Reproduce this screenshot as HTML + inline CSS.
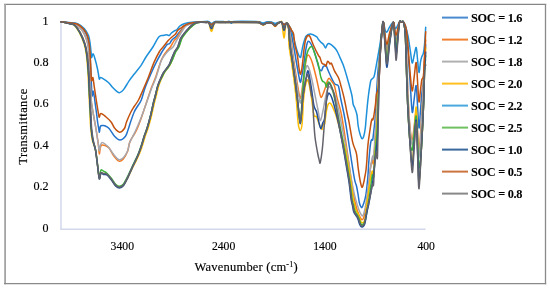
<!DOCTYPE html><html><head><meta charset="utf-8"><style>html,body{margin:0;padding:0;background:#fff;}svg{display:block;}text{font-family:"Liberation Serif",serif;fill:#000;stroke:#000;stroke-width:0.15px;}</style></head><body>
<svg width="550" height="288" viewBox="0 0 550 288">
<rect x="0" y="0" width="550" height="288" fill="#fff"/>
<line x1="4" y1="4.4" x2="546.2" y2="4.4" stroke="#868686" stroke-width="1.3"/>
<line x1="5.1" y1="4" x2="5.1" y2="284.3" stroke="#a4a4a4" stroke-width="1.8"/>
<line x1="545.5" y1="4" x2="545.5" y2="284.3" stroke="#8a8a8a" stroke-width="1.3"/>
<line x1="4" y1="283.7" x2="546.2" y2="283.7" stroke="#8a8a8a" stroke-width="1.3"/>
<line x1="61" y1="21" x2="61" y2="229.2" stroke="#D3D7EA" stroke-width="1.5"/>
<line x1="60.3" y1="229.2" x2="425.5" y2="229.2" stroke="#D3D7EA" stroke-width="1.5"/>
<text x="48.6" y="24.6" font-size="12.5" text-anchor="end" textLength="6" lengthAdjust="spacingAndGlyphs">1</text>
<text x="48.6" y="66.0" font-size="12.5" text-anchor="end" textLength="15.2" lengthAdjust="spacingAndGlyphs">0.8</text>
<text x="48.6" y="107.4" font-size="12.5" text-anchor="end" textLength="15.2" lengthAdjust="spacingAndGlyphs">0.6</text>
<text x="48.6" y="148.8" font-size="12.5" text-anchor="end" textLength="15.2" lengthAdjust="spacingAndGlyphs">0.4</text>
<text x="48.6" y="190.2" font-size="12.5" text-anchor="end" textLength="15.2" lengthAdjust="spacingAndGlyphs">0.2</text>
<text x="48.6" y="231.6" font-size="12.5" text-anchor="end" textLength="6" lengthAdjust="spacingAndGlyphs">0</text>
<text x="110.6" y="250.1" font-size="12.5" textLength="23.4" lengthAdjust="spacingAndGlyphs">3400</text>
<text x="211.9" y="250.1" font-size="12.5" textLength="23.4" lengthAdjust="spacingAndGlyphs">2400</text>
<text x="313.2" y="250.1" font-size="12.5" textLength="23.4" lengthAdjust="spacingAndGlyphs">1400</text>
<text x="417.4" y="250.1" font-size="12.5" textLength="17.5" lengthAdjust="spacingAndGlyphs">400</text>
<text x="194.6" y="271.2" font-size="12.5" textLength="103" lengthAdjust="spacing">Wavenumber (cm<tspan font-size="8" dy="-4.5">-1</tspan><tspan dy="4.5">)</tspan></text>
<text transform="translate(27.3,164.7) rotate(-90)" font-size="12.5" textLength="76" lengthAdjust="spacing">Transmittance</text>
<g fill="none" stroke-linejoin="round" stroke-linecap="round">
<path d="M61.00,21.70 C61.67,21.80 63.67,22.10 65.00,22.30 C66.33,22.50 67.00,22.58 69.00,22.90 C71.00,23.22 74.58,23.10 77.00,24.20 C79.42,25.30 81.75,27.37 83.50,29.50 C85.25,31.63 86.50,34.08 87.50,37.00 C88.50,39.92 89.03,43.17 89.50,47.00 C89.97,50.83 90.05,55.33 90.30,60.00 C90.55,64.67 90.78,70.33 91.00,75.00 C91.22,79.67 91.40,84.50 91.60,88.00 C91.80,91.50 91.95,95.52 92.20,96.00 C92.45,96.48 92.77,90.90 93.10,90.90 C93.43,90.90 93.82,93.65 94.20,96.00 C94.58,98.35 95.02,102.17 95.40,105.00 C95.78,107.83 96.13,110.17 96.50,113.00 C96.87,115.83 97.25,119.50 97.60,122.00 C97.95,124.50 98.30,126.30 98.60,128.00 C98.90,129.70 99.10,132.47 99.40,132.20 C99.70,131.93 99.88,127.52 100.40,126.40 C100.92,125.28 101.78,125.60 102.50,125.50 C103.22,125.40 103.60,125.30 104.70,125.80 C105.80,126.30 107.47,126.77 109.10,128.50 C110.73,130.23 112.68,134.28 114.50,136.20 C116.32,138.12 118.17,140.00 120.00,140.00 C121.83,140.00 124.17,137.87 125.50,136.20 C126.83,134.53 127.10,132.53 128.00,130.00 C128.90,127.47 129.87,124.00 130.90,121.00 C131.93,118.00 133.18,114.33 134.20,112.00 C135.22,109.67 135.82,109.00 137.00,107.00 C138.18,105.00 139.97,103.17 141.30,100.00 C142.63,96.83 143.27,92.67 145.00,88.00 C146.73,83.33 149.83,76.27 151.70,72.00 C153.57,67.73 154.55,65.65 156.20,62.40 C157.85,59.15 160.08,55.07 161.60,52.50 C163.12,49.93 164.32,48.38 165.30,47.00 C166.28,45.62 166.77,44.78 167.50,44.20 C168.23,43.62 168.97,44.22 169.70,43.50 C170.43,42.78 170.93,40.98 171.90,39.90 C172.87,38.82 174.40,38.10 175.50,37.00 C176.60,35.90 177.52,34.53 178.50,33.30 C179.48,32.07 180.43,30.82 181.40,29.60 C182.37,28.38 182.87,27.02 184.30,26.00 C185.73,24.98 187.88,24.13 190.00,23.50 C192.12,22.87 194.33,22.50 197.00,22.20 C199.67,21.90 204.05,21.75 206.00,21.70 C207.95,21.65 207.78,21.27 208.70,21.90 C209.62,22.53 210.50,25.50 211.50,25.50 C212.50,25.50 213.28,22.53 214.70,21.90 C216.12,21.27 213.12,21.73 220.00,21.70 C226.88,21.67 249.42,21.62 256.00,21.70 C262.58,21.78 258.30,21.75 259.50,22.20 C260.70,22.65 262.03,24.38 263.20,24.40 C264.37,24.42 265.45,22.70 266.50,22.30 C267.55,21.90 268.50,21.93 269.50,22.00 C270.50,22.07 271.55,22.12 272.50,22.70 C273.45,23.28 274.32,25.50 275.20,25.50 C276.08,25.50 277.07,23.22 277.80,22.70 C278.53,22.18 279.13,22.48 279.60,22.40 C280.07,22.32 280.20,22.17 280.60,22.20 C281.00,22.23 281.43,22.13 282.00,22.60 C282.57,23.07 283.33,24.85 284.00,25.00 C284.67,25.15 285.27,23.42 286.00,23.50 C286.73,23.58 287.57,23.92 288.40,25.50 C289.23,27.08 290.15,29.75 291.00,33.00 C291.85,36.25 292.67,40.50 293.50,45.00 C294.33,49.50 295.17,55.17 296.00,60.00 C296.83,64.83 297.78,70.27 298.50,74.00 C299.22,77.73 299.72,82.23 300.30,82.40 C300.88,82.57 301.45,77.73 302.00,75.00 C302.55,72.27 303.10,69.33 303.60,66.00 C304.10,62.67 304.52,58.33 305.00,55.00 C305.48,51.67 305.97,48.28 306.50,46.00 C307.03,43.72 307.45,41.63 308.20,41.30 C308.95,40.97 309.95,42.18 311.00,44.00 C312.05,45.82 313.45,49.20 314.50,52.20 C315.55,55.20 316.55,59.37 317.30,62.00 C318.05,64.63 318.32,66.53 319.00,68.00 C319.68,69.47 320.73,70.97 321.40,70.80 C322.07,70.63 322.40,67.83 323.00,67.00 C323.60,66.17 324.42,65.88 325.00,65.80 C325.58,65.72 325.82,65.35 326.50,66.50 C327.18,67.65 327.77,69.85 329.10,72.70 C330.43,75.55 332.95,81.38 334.50,83.60 C336.05,85.82 337.38,83.60 338.40,86.00 C339.42,88.40 339.63,93.17 340.60,98.00 C341.57,102.83 343.08,109.12 344.20,115.00 C345.32,120.88 346.18,126.30 347.30,133.30 C348.42,140.30 349.70,149.37 350.90,157.00 C352.10,164.63 353.57,174.27 354.50,179.10 C355.43,183.93 355.92,183.52 356.50,186.00 C357.08,188.48 357.55,191.33 358.00,194.00 C358.45,196.67 358.78,200.00 359.20,202.00 C359.62,204.00 360.03,205.08 360.50,206.00 C360.97,206.92 361.45,208.00 362.00,207.50 C362.55,207.00 363.30,204.42 363.80,203.00 C364.30,201.58 364.63,200.50 365.00,199.00 C365.37,197.50 365.65,196.33 366.00,194.00 C366.35,191.67 366.77,188.17 367.10,185.00 C367.43,181.83 367.72,178.83 368.00,175.00 C368.28,171.17 368.50,166.17 368.80,162.00 C369.10,157.83 369.47,153.33 369.80,150.00 C370.13,146.67 370.47,143.75 370.80,142.00 C371.13,140.25 371.48,139.87 371.80,139.50 C372.12,139.13 372.37,141.22 372.70,139.80 C373.03,138.38 373.38,134.63 373.80,131.00 C374.22,127.37 374.82,122.33 375.20,118.00 C375.58,113.67 375.80,110.50 376.10,105.00 C376.40,99.50 376.60,91.67 377.00,85.00 C377.40,78.33 377.87,71.67 378.50,65.00 C379.13,58.33 380.17,50.83 380.80,45.00 C381.43,39.17 381.87,33.78 382.30,30.00 C382.73,26.22 382.92,20.78 383.40,22.30 C383.88,23.82 384.60,34.53 385.20,39.15 C385.80,43.77 386.28,50.50 387.00,50.00 C387.72,49.50 388.45,40.78 389.50,36.15 C390.55,31.52 392.38,22.38 393.30,22.20 C394.22,22.02 394.52,31.80 395.00,35.10 C395.48,38.40 395.73,42.50 396.20,42.00 C396.67,41.50 397.25,35.40 397.80,32.10 C398.35,28.80 398.88,23.88 399.50,22.20 C400.12,20.52 400.83,22.00 401.50,22.00 C402.17,22.00 402.83,21.20 403.50,22.20 C404.17,23.20 404.83,24.20 405.50,28.00 C406.17,31.80 406.75,36.33 407.50,45.00 C408.25,53.67 409.22,68.83 410.00,80.00 C410.78,91.17 411.50,108.87 412.20,112.00 C412.90,115.13 413.53,103.20 414.20,98.80 C414.87,94.40 415.63,84.27 416.20,85.60 C416.77,86.93 417.13,99.73 417.60,106.80 C418.07,113.87 418.52,127.47 419.00,128.00 C419.48,128.53 420.00,116.00 420.50,110.00 C421.00,104.00 421.48,97.00 422.00,92.00 C422.52,87.00 423.17,85.33 423.60,80.00 C424.03,74.67 424.25,65.87 424.60,60.00 C424.95,54.13 425.52,47.33 425.70,44.80" stroke="#2272CC" stroke-width="1.5"/>
<path d="M61.00,21.70 C61.67,21.82 63.67,22.18 65.00,22.40 C66.33,22.62 67.17,22.65 69.00,23.00 C70.83,23.35 73.83,23.33 76.00,24.50 C78.17,25.67 80.33,27.75 82.00,30.00 C83.67,32.25 84.95,35.17 86.00,38.00 C87.05,40.83 87.75,43.33 88.30,47.00 C88.85,50.67 89.03,55.33 89.30,60.00 C89.57,64.67 89.68,70.00 89.90,75.00 C90.12,80.00 90.35,85.50 90.60,90.00 C90.85,94.50 90.92,97.83 91.40,102.00 C91.88,106.17 92.85,111.17 93.50,115.00 C94.15,118.83 94.72,121.67 95.30,125.00 C95.88,128.33 96.47,131.50 97.00,135.00 C97.53,138.50 98.12,142.83 98.50,146.00 C98.88,149.17 98.97,153.83 99.30,154.00 C99.63,154.17 100.05,148.50 100.50,147.00 C100.95,145.50 101.25,145.25 102.00,145.00 C102.75,144.75 103.82,145.00 105.00,145.50 C106.18,146.00 107.68,146.32 109.10,148.00 C110.52,149.68 111.87,153.42 113.50,155.60 C115.13,157.78 117.27,160.55 118.90,161.10 C120.53,161.65 121.85,160.53 123.30,158.90 C124.75,157.27 126.57,153.95 127.60,151.30 C128.63,148.65 128.68,145.38 129.50,143.00 C130.32,140.62 131.32,139.17 132.50,137.00 C133.68,134.83 135.05,133.43 136.60,130.00 C138.15,126.57 140.02,121.40 141.80,116.40 C143.58,111.40 145.72,104.73 147.30,100.00 C148.88,95.27 149.90,91.83 151.30,88.00 C152.70,84.17 154.15,81.33 155.70,77.00 C157.25,72.67 159.28,65.58 160.60,62.00 C161.92,58.42 162.60,57.28 163.60,55.50 C164.60,53.72 165.47,52.72 166.60,51.30 C167.73,49.88 169.15,48.78 170.40,47.00 C171.65,45.22 173.00,42.15 174.10,40.60 C175.20,39.05 176.15,38.80 177.00,37.70 C177.85,36.60 178.35,35.35 179.20,34.00 C180.05,32.65 181.13,30.93 182.10,29.60 C183.07,28.27 183.52,27.02 185.00,26.00 C186.48,24.98 188.83,24.13 191.00,23.50 C193.17,22.87 195.50,22.47 198.00,22.20 C200.50,21.93 204.22,21.92 206.00,21.90 C207.78,21.88 207.78,21.42 208.70,22.10 C209.62,22.78 210.50,26.00 211.50,26.00 C212.50,26.00 213.28,22.78 214.70,22.10 C216.12,21.42 213.12,21.93 220.00,21.90 C226.88,21.87 249.42,21.82 256.00,21.90 C262.58,21.98 258.30,21.98 259.50,22.40 C260.70,22.82 262.03,24.38 263.20,24.40 C264.37,24.42 265.45,22.87 266.50,22.50 C267.55,22.13 268.50,22.13 269.50,22.20 C270.50,22.27 271.55,22.35 272.50,22.90 C273.45,23.45 274.32,25.50 275.20,25.50 C276.08,25.50 277.07,23.42 277.80,22.90 C278.53,22.38 279.13,22.52 279.60,22.40 C280.07,22.28 280.20,22.17 280.60,22.20 C281.00,22.23 281.43,21.97 282.00,22.60 C282.57,23.23 283.33,25.85 284.00,26.00 C284.67,26.15 285.27,23.33 286.00,23.50 C286.73,23.67 287.65,24.92 288.40,27.00 C289.15,29.08 289.73,31.33 290.50,36.00 C291.27,40.67 292.17,49.00 293.00,55.00 C293.83,61.00 294.67,66.50 295.50,72.00 C296.33,77.50 297.20,83.63 298.00,88.00 C298.80,92.37 299.63,97.87 300.30,98.20 C300.97,98.53 301.38,94.03 302.00,90.00 C302.62,85.97 303.42,78.33 304.00,74.00 C304.58,69.67 305.03,66.83 305.50,64.00 C305.97,61.17 306.35,58.52 306.80,57.00 C307.25,55.48 307.58,54.73 308.20,54.90 C308.82,55.07 309.75,56.48 310.50,58.00 C311.25,59.52 311.72,60.63 312.70,64.00 C313.68,67.37 315.35,73.87 316.40,78.20 C317.45,82.53 318.25,86.82 319.00,90.00 C319.75,93.18 320.23,96.63 320.90,97.30 C321.57,97.97 322.23,95.67 323.00,94.00 C323.77,92.33 324.75,89.55 325.50,87.30 C326.25,85.05 326.90,82.02 327.50,80.50 C328.10,78.98 328.43,78.12 329.10,78.20 C329.77,78.28 330.60,79.70 331.50,81.00 C332.40,82.30 333.57,83.17 334.50,86.00 C335.43,88.83 335.93,93.17 337.10,98.00 C338.27,102.83 339.85,106.33 341.50,115.00 C343.15,123.67 345.50,140.00 347.00,150.00 C348.50,160.00 349.50,168.00 350.50,175.00 C351.50,182.00 352.17,187.17 353.00,192.00 C353.83,196.83 354.75,200.83 355.50,204.00 C356.25,207.17 356.83,209.00 357.50,211.00 C358.17,213.00 358.92,214.72 359.50,216.00 C360.08,217.28 360.58,218.07 361.00,218.70 C361.42,219.33 361.62,219.83 362.00,219.80 C362.38,219.77 362.80,219.63 363.30,218.50 C363.80,217.37 364.45,215.25 365.00,213.00 C365.55,210.75 366.17,207.67 366.60,205.00 C367.03,202.33 367.28,199.50 367.60,197.00 C367.92,194.50 368.22,192.83 368.50,190.00 C368.78,187.17 369.07,183.00 369.30,180.00 C369.53,177.00 369.58,174.67 369.90,172.00 C370.22,169.33 370.78,165.92 371.20,164.00 C371.62,162.08 372.05,160.58 372.40,160.50 C372.75,160.42 372.95,165.25 373.30,163.50 C373.65,161.75 374.05,156.42 374.50,150.00 C374.95,143.58 375.53,133.33 376.00,125.00 C376.47,116.67 376.92,107.50 377.30,100.00 C377.68,92.50 377.93,86.67 378.30,80.00 C378.67,73.33 379.05,66.67 379.50,60.00 C379.95,53.33 380.53,45.33 381.00,40.00 C381.47,34.67 381.90,30.95 382.30,28.00 C382.70,25.05 382.92,20.28 383.40,22.30 C383.88,24.32 384.60,35.20 385.20,40.15 C385.80,45.10 386.28,52.50 387.00,52.00 C387.72,51.50 388.45,42.12 389.50,37.15 C390.55,32.18 392.38,22.38 393.30,22.20 C394.22,22.02 394.52,32.47 395.00,36.10 C395.48,39.73 395.73,44.50 396.20,44.00 C396.67,43.50 397.25,36.73 397.80,33.10 C398.35,29.47 398.88,24.05 399.50,22.20 C400.12,20.35 400.83,22.00 401.50,22.00 C402.17,22.00 402.87,20.53 403.50,22.20 C404.13,23.87 404.75,25.70 405.30,32.00 C405.85,38.30 406.35,49.50 406.80,60.00 C407.25,70.50 407.50,84.17 408.00,95.00 C408.50,105.83 409.10,117.50 409.80,125.00 C410.50,132.50 411.47,139.83 412.20,140.00 C412.93,140.17 413.53,130.67 414.20,126.00 C414.87,121.33 415.63,111.17 416.20,112.00 C416.77,112.83 417.13,124.67 417.60,131.00 C418.07,137.33 418.47,150.17 419.00,150.00 C419.53,149.83 420.25,137.50 420.80,130.00 C421.35,122.50 421.88,112.50 422.30,105.00 C422.72,97.50 422.97,92.17 423.30,85.00 C423.63,77.83 423.90,69.50 424.30,62.00 C424.70,54.50 425.47,43.67 425.70,40.00" stroke="#F47A22" stroke-width="1.5"/>
<path d="M61.00,21.70 C61.67,21.82 63.67,22.18 65.00,22.40 C66.33,22.62 67.17,22.65 69.00,23.00 C70.83,23.35 73.83,23.33 76.00,24.50 C78.17,25.67 80.33,27.75 82.00,30.00 C83.67,32.25 84.95,35.17 86.00,38.00 C87.05,40.83 87.75,43.33 88.30,47.00 C88.85,50.67 89.03,55.33 89.30,60.00 C89.57,64.67 89.68,70.00 89.90,75.00 C90.12,80.00 90.35,85.50 90.60,90.00 C90.85,94.50 90.92,97.83 91.40,102.00 C91.88,106.17 92.82,111.00 93.50,115.00 C94.18,119.00 94.92,122.50 95.50,126.00 C96.08,129.50 96.50,132.83 97.00,136.00 C97.50,139.17 98.12,142.50 98.50,145.00 C98.88,147.50 98.97,151.00 99.30,151.00 C99.63,151.00 100.05,146.42 100.50,145.00 C100.95,143.58 101.25,142.67 102.00,142.50 C102.75,142.33 103.82,143.08 105.00,144.00 C106.18,144.92 107.68,146.28 109.10,148.00 C110.52,149.72 111.87,152.35 113.50,154.30 C115.13,156.25 117.27,159.12 118.90,159.70 C120.53,160.28 121.85,159.25 123.30,157.80 C124.75,156.35 126.57,153.47 127.60,151.00 C128.63,148.53 128.68,145.33 129.50,143.00 C130.32,140.67 131.28,139.50 132.50,137.00 C133.72,134.50 135.25,131.50 136.80,128.00 C138.35,124.50 140.02,120.67 141.80,116.00 C143.58,111.33 145.85,104.67 147.50,100.00 C149.15,95.33 150.25,91.83 151.70,88.00 C153.15,84.17 154.67,81.42 156.20,77.00 C157.73,72.58 159.60,65.00 160.90,61.50 C162.20,58.00 162.82,57.72 164.00,56.00 C165.18,54.28 166.50,52.70 168.00,51.20 C169.50,49.70 171.58,48.77 173.00,47.00 C174.42,45.23 175.47,42.43 176.50,40.60 C177.53,38.77 178.20,37.68 179.20,36.00 C180.20,34.32 181.37,32.17 182.50,30.50 C183.63,28.83 184.42,27.17 186.00,26.00 C187.58,24.83 189.83,24.13 192.00,23.50 C194.17,22.87 196.67,22.45 199.00,22.20 C201.33,21.95 204.38,22.00 206.00,22.00 C207.62,22.00 207.78,21.53 208.70,22.20 C209.62,22.87 210.50,26.00 211.50,26.00 C212.50,26.00 213.28,22.87 214.70,22.20 C216.12,21.53 213.12,22.03 220.00,22.00 C226.88,21.97 249.42,21.92 256.00,22.00 C262.58,22.08 258.30,22.10 259.50,22.50 C260.70,22.90 262.03,24.38 263.20,24.40 C264.37,24.42 265.45,22.95 266.50,22.60 C267.55,22.25 268.50,22.23 269.50,22.30 C270.50,22.37 271.55,22.47 272.50,23.00 C273.45,23.53 274.32,25.50 275.20,25.50 C276.08,25.50 277.07,23.52 277.80,23.00 C278.53,22.48 279.13,22.53 279.60,22.40 C280.07,22.27 280.20,22.17 280.60,22.20 C281.00,22.23 281.43,21.88 282.00,22.60 C282.57,23.32 283.33,26.35 284.00,26.50 C284.67,26.65 285.27,23.33 286.00,23.50 C286.73,23.67 287.65,25.08 288.40,27.50 C289.15,29.92 289.73,32.92 290.50,38.00 C291.27,43.08 292.17,51.67 293.00,58.00 C293.83,64.33 294.67,70.33 295.50,76.00 C296.33,81.67 297.20,87.50 298.00,92.00 C298.80,96.50 299.67,102.50 300.30,103.00 C300.93,103.50 301.27,98.50 301.80,95.00 C302.33,91.50 302.97,85.83 303.50,82.00 C304.03,78.17 304.53,74.50 305.00,72.00 C305.47,69.50 305.90,68.07 306.30,67.00 C306.70,65.93 306.87,65.10 307.40,65.60 C307.93,66.10 308.73,67.60 309.50,70.00 C310.27,72.40 311.08,75.83 312.00,80.00 C312.92,84.17 314.00,90.00 315.00,95.00 C316.00,100.00 317.13,105.75 318.00,110.00 C318.87,114.25 319.45,120.00 320.20,120.50 C320.95,121.00 321.70,116.42 322.50,113.00 C323.30,109.58 324.25,103.67 325.00,100.00 C325.75,96.33 326.33,93.25 327.00,91.00 C327.67,88.75 328.25,86.83 329.00,86.50 C329.75,86.17 330.75,88.08 331.50,89.00 C332.25,89.92 332.78,90.50 333.50,92.00 C334.22,93.50 334.78,94.17 335.80,98.00 C336.82,101.83 337.82,106.33 339.60,115.00 C341.38,123.67 344.52,139.17 346.50,150.00 C348.48,160.83 350.17,172.50 351.50,180.00 C352.83,187.50 353.58,191.00 354.50,195.00 C355.42,199.00 356.25,201.50 357.00,204.00 C357.75,206.50 358.37,208.33 359.00,210.00 C359.63,211.67 360.30,213.03 360.80,214.00 C361.30,214.97 361.60,215.60 362.00,215.80 C362.40,216.00 362.78,216.00 363.20,215.20 C363.62,214.40 364.03,213.03 364.50,211.00 C364.97,208.97 365.50,206.17 366.00,203.00 C366.50,199.83 367.00,195.83 367.50,192.00 C368.00,188.17 368.50,184.00 369.00,180.00 C369.50,176.00 370.03,171.33 370.50,168.00 C370.97,164.67 371.43,162.03 371.80,160.00 C372.17,157.97 372.42,155.97 372.70,155.80 C372.98,155.63 373.20,160.80 373.50,159.00 C373.80,157.20 374.08,151.50 374.50,145.00 C374.92,138.50 375.53,127.50 376.00,120.00 C376.47,112.50 376.92,106.67 377.30,100.00 C377.68,93.33 377.93,86.67 378.30,80.00 C378.67,73.33 379.05,66.67 379.50,60.00 C379.95,53.33 380.53,45.33 381.00,40.00 C381.47,34.67 381.90,30.95 382.30,28.00 C382.70,25.05 382.92,20.03 383.40,22.30 C383.88,24.57 384.60,36.20 385.20,41.65 C385.80,47.10 386.28,55.50 387.00,55.00 C387.72,54.50 388.45,44.12 389.50,38.65 C390.55,33.18 392.38,22.46 393.30,22.20 C394.22,21.94 394.52,33.13 395.00,37.10 C395.48,41.07 395.73,46.50 396.20,46.00 C396.67,45.50 397.25,38.07 397.80,34.10 C398.35,30.13 398.88,24.22 399.50,22.20 C400.12,20.18 400.83,22.00 401.50,22.00 C402.17,22.00 402.87,20.37 403.50,22.20 C404.13,24.03 404.75,26.37 405.30,33.00 C405.85,39.63 406.35,51.33 406.80,62.00 C407.25,72.67 407.50,86.17 408.00,97.00 C408.50,107.83 409.10,119.00 409.80,127.00 C410.50,135.00 411.47,144.58 412.20,145.00 C412.93,145.42 413.53,134.67 414.20,129.50 C414.87,124.33 415.63,112.92 416.20,114.00 C416.77,115.08 417.13,128.67 417.60,136.00 C418.07,143.33 418.47,158.17 419.00,158.00 C419.53,157.83 420.25,143.33 420.80,135.00 C421.35,126.67 421.88,115.83 422.30,108.00 C422.72,100.17 422.97,95.00 423.30,88.00 C423.63,81.00 423.90,70.67 424.30,66.00 C424.70,61.33 425.47,61.00 425.70,60.00" stroke="#A6A6AE" stroke-width="1.5"/>
<path d="M61.00,21.70 C61.67,21.85 63.67,22.32 65.00,22.60 C66.33,22.88 67.52,23.00 69.00,23.40 C70.48,23.80 72.18,23.50 73.90,25.00 C75.62,26.50 77.58,29.23 79.30,32.40 C81.02,35.57 83.02,40.23 84.20,44.00 C85.38,47.77 85.75,49.83 86.40,55.00 C87.05,60.17 87.67,68.33 88.10,75.00 C88.53,81.67 88.70,88.83 89.00,95.00 C89.30,101.17 89.62,106.50 89.90,112.00 C90.18,117.50 90.30,123.33 90.70,128.00 C91.10,132.67 91.50,136.33 92.30,140.00 C93.10,143.67 94.63,145.83 95.50,150.00 C96.37,154.17 96.87,160.25 97.50,165.00 C98.13,169.75 98.73,177.17 99.30,178.50 C99.87,179.83 100.20,173.75 100.90,173.00 C101.60,172.25 102.50,173.75 103.50,174.00 C104.50,174.25 105.60,173.58 106.90,174.50 C108.20,175.42 109.85,177.67 111.30,179.50 C112.75,181.33 114.23,184.15 115.60,185.50 C116.97,186.85 118.22,187.60 119.50,187.60 C120.78,187.60 121.92,187.13 123.30,185.50 C124.68,183.87 126.24,180.72 127.76,177.80 C129.28,174.88 130.91,171.08 132.42,168.00 C133.94,164.92 135.64,161.80 136.85,159.30 C138.07,156.80 138.85,155.13 139.72,153.00 C140.59,150.87 141.15,149.40 142.10,146.50 C143.05,143.60 144.40,138.68 145.40,135.60 C146.40,132.52 147.10,131.27 148.10,128.00 C149.10,124.73 150.37,120.17 151.40,116.00 C152.43,111.83 153.55,106.17 154.30,103.00 C155.05,99.83 155.18,99.80 155.90,97.00 C156.62,94.20 157.77,89.03 158.60,86.20 C159.43,83.37 160.17,81.82 160.90,80.00 C161.63,78.18 162.37,76.60 163.00,75.30 C163.63,74.00 163.87,73.45 164.70,72.20 C165.53,70.95 167.08,69.08 168.00,67.80 C168.92,66.52 169.47,65.95 170.20,64.50 C170.93,63.05 171.50,61.27 172.40,59.10 C173.30,56.93 174.57,53.52 175.60,51.50 C176.63,49.48 177.60,49.18 178.60,47.00 C179.60,44.82 180.50,40.68 181.60,38.40 C182.70,36.12 183.87,35.00 185.20,33.30 C186.53,31.60 187.80,29.92 189.60,28.20 C191.40,26.48 194.00,24.00 196.00,23.00 C198.00,22.00 199.93,22.28 201.60,22.20 C203.27,22.12 204.82,22.42 206.00,22.50 C207.18,22.58 207.78,21.20 208.70,22.70 C209.62,24.20 210.50,31.50 211.50,31.50 C212.50,31.50 213.28,24.20 214.70,22.70 C216.12,21.20 213.12,22.53 220.00,22.50 C226.88,22.47 249.42,22.42 256.00,22.50 C262.58,22.58 258.30,22.58 259.50,23.00 C260.70,23.42 262.03,24.98 263.20,25.00 C264.37,25.02 265.45,23.47 266.50,23.10 C267.55,22.73 268.50,22.73 269.50,22.80 C270.50,22.87 271.55,22.88 272.50,23.50 C273.45,24.12 274.32,26.50 275.20,26.50 C276.08,26.50 277.07,24.18 277.80,23.50 C278.53,22.82 279.13,22.62 279.60,22.40 C280.07,22.18 280.20,22.17 280.60,22.20 C281.00,22.23 281.43,19.97 282.00,22.60 C282.57,25.23 283.33,37.85 284.00,38.00 C284.67,38.15 285.27,25.33 286.00,23.50 C286.73,21.67 287.90,23.42 288.40,27.00 C288.90,30.58 288.48,39.17 289.00,45.00 C289.52,50.83 290.67,56.17 291.50,62.00 C292.33,67.83 293.20,73.67 294.00,80.00 C294.80,86.33 295.70,93.83 296.30,100.00 C296.90,106.17 297.22,112.67 297.60,117.00 C297.98,121.33 298.15,123.75 298.60,126.00 C299.05,128.25 299.77,130.50 300.30,130.50 C300.83,130.50 301.42,128.25 301.80,126.00 C302.18,123.75 302.32,121.33 302.60,117.00 C302.88,112.67 303.10,104.83 303.50,100.00 C303.90,95.17 304.53,91.00 305.00,88.00 C305.47,85.00 305.83,83.33 306.30,82.00 C306.77,80.67 307.27,79.33 307.80,80.00 C308.33,80.67 308.88,83.00 309.50,86.00 C310.12,89.00 310.75,93.17 311.50,98.00 C312.25,102.83 313.17,111.87 314.00,115.00 C314.83,118.13 315.67,115.37 316.50,116.80 C317.33,118.23 318.08,121.47 319.00,123.60 C319.92,125.73 321.37,129.60 322.00,129.60 C322.63,129.60 322.38,124.47 322.80,123.60 C323.22,122.73 323.90,126.47 324.50,124.40 C325.10,122.33 325.85,114.40 326.40,111.20 C326.95,108.00 327.35,106.53 327.80,105.20 C328.25,103.87 328.57,103.40 329.10,103.20 C329.63,103.00 330.35,103.20 331.00,104.00 C331.65,104.80 332.18,106.17 333.00,108.00 C333.82,109.83 334.73,111.33 335.90,115.00 C337.07,118.67 338.40,124.17 340.00,130.00 C341.60,135.83 343.67,141.33 345.50,150.00 C347.33,158.67 349.70,173.83 351.00,182.00 C352.30,190.17 352.68,195.17 353.30,199.00 C353.92,202.83 354.30,203.25 354.70,205.00 C355.10,206.75 355.28,208.25 355.70,209.50 C356.12,210.75 356.72,211.58 357.20,212.50 C357.68,213.42 358.17,214.00 358.60,215.00 C359.03,216.00 359.40,217.37 359.80,218.50 C360.20,219.63 360.63,221.08 361.00,221.80 C361.37,222.52 361.53,222.77 362.00,222.80 C362.47,222.83 363.27,222.80 363.80,222.00 C364.33,221.20 364.73,220.83 365.20,218.00 C365.67,215.17 366.13,208.67 366.60,205.00 C367.07,201.33 367.63,198.50 368.00,196.00 C368.37,193.50 368.47,192.50 368.80,190.00 C369.13,187.50 369.58,183.67 370.00,181.00 C370.42,178.33 370.90,175.67 371.30,174.00 C371.70,172.33 372.07,170.67 372.40,171.00 C372.73,171.33 372.95,177.83 373.30,176.00 C373.65,174.17 374.05,166.00 374.50,160.00 C374.95,154.00 375.53,147.50 376.00,140.00 C376.47,132.50 376.93,123.33 377.30,115.00 C377.67,106.67 377.88,97.50 378.20,90.00 C378.52,82.50 378.85,76.67 379.20,70.00 C379.55,63.33 379.83,56.67 380.30,50.00 C380.77,43.33 381.48,34.62 382.00,30.00 C382.52,25.38 382.87,19.69 383.40,22.30 C383.93,24.91 384.60,38.87 385.20,45.65 C385.80,52.43 386.28,63.50 387.00,63.00 C387.72,62.50 388.45,49.45 389.50,42.65 C390.55,35.85 392.38,22.62 393.30,22.20 C394.22,21.77 394.52,35.13 395.00,40.10 C395.48,45.07 395.73,52.50 396.20,52.00 C396.67,51.50 397.25,42.07 397.80,37.10 C398.35,32.13 398.88,24.72 399.50,22.20 C400.12,19.68 400.83,22.00 401.50,22.00 C402.17,22.00 402.87,20.03 403.50,22.20 C404.13,24.37 404.78,26.37 405.30,35.00 C405.82,43.63 406.18,62.00 406.60,74.00 C407.02,86.00 407.27,96.00 407.80,107.00 C408.33,118.00 409.07,130.50 409.80,140.00 C410.53,149.50 411.47,164.75 412.20,164.00 C412.93,163.25 413.53,145.00 414.20,135.50 C414.87,126.00 415.63,105.50 416.20,107.00 C416.77,108.50 417.13,132.00 417.60,144.50 C418.07,157.00 418.38,181.08 419.00,182.00 C419.62,182.92 420.65,160.33 421.30,150.00 C421.95,139.67 422.47,129.17 422.90,120.00 C423.33,110.83 423.62,103.33 423.90,95.00 C424.18,86.67 424.30,77.88 424.60,70.00 C424.90,62.12 425.52,51.42 425.70,47.70" stroke="#FCBC00" stroke-width="1.5"/>
<path d="M61.00,21.70 C61.67,21.77 63.67,21.95 65.00,22.10 C66.33,22.25 66.90,22.35 69.00,22.60 C71.10,22.85 75.07,22.62 77.60,23.60 C80.13,24.58 82.38,26.50 84.20,28.50 C86.02,30.50 87.50,33.02 88.50,35.60 C89.50,38.18 89.73,40.78 90.20,44.00 C90.67,47.22 91.05,52.63 91.30,54.90 C91.55,57.17 91.38,57.78 91.70,57.60 C92.02,57.42 92.63,53.52 93.20,53.80 C93.77,54.08 94.42,56.93 95.10,59.30 C95.78,61.67 96.72,65.38 97.30,68.00 C97.88,70.62 98.27,73.13 98.60,75.00 C98.93,76.87 99.02,78.77 99.30,79.20 C99.58,79.63 99.88,77.82 100.30,77.60 C100.72,77.38 100.45,77.08 101.80,77.90 C103.15,78.72 106.58,80.90 108.40,82.50 C110.22,84.10 111.25,85.98 112.70,87.50 C114.15,89.02 115.92,90.75 117.10,91.60 C118.28,92.45 118.72,92.93 119.80,92.60 C120.88,92.27 122.05,91.55 123.60,89.60 C125.15,87.65 127.28,83.53 129.10,80.90 C130.92,78.27 132.53,76.35 134.50,73.80 C136.47,71.25 138.98,68.40 140.90,65.60 C142.82,62.80 144.00,60.10 146.00,57.00 C148.00,53.90 150.77,50.33 152.90,47.00 C155.03,43.67 157.10,38.92 158.80,37.00 C160.50,35.08 161.77,35.87 163.10,35.50 C164.43,35.13 165.77,34.80 166.80,34.80 C167.83,34.80 168.57,35.75 169.30,35.50 C170.03,35.25 170.40,34.03 171.20,33.30 C172.00,32.57 173.13,31.72 174.10,31.10 C175.07,30.48 176.03,30.45 177.00,29.60 C177.97,28.75 178.70,26.97 179.90,26.00 C181.10,25.03 182.22,24.43 184.20,23.80 C186.18,23.17 188.17,22.58 191.80,22.20 C195.43,21.82 203.18,21.58 206.00,21.50 C208.82,21.42 207.78,21.37 208.70,21.70 C209.62,22.03 210.50,23.50 211.50,23.50 C212.50,23.50 213.28,22.03 214.70,21.70 C216.12,21.37 218.53,21.53 220.00,21.50 C221.47,21.47 222.57,21.32 223.50,21.50 C224.43,21.68 224.85,22.60 225.60,22.60 C226.35,22.60 227.35,21.68 228.00,21.50 C228.65,21.32 228.92,21.20 229.50,21.50 C230.08,21.80 230.75,23.30 231.50,23.30 C232.25,23.30 229.92,21.80 234.00,21.50 C238.08,21.20 251.75,21.42 256.00,21.50 C260.25,21.58 258.30,21.75 259.50,22.00 C260.70,22.25 262.03,22.98 263.20,23.00 C264.37,23.02 265.45,22.30 266.50,22.10 C267.55,21.90 268.50,21.73 269.50,21.80 C270.50,21.87 271.55,22.22 272.50,22.50 C273.45,22.78 274.32,23.50 275.20,23.50 C276.08,23.50 277.07,22.68 277.80,22.50 C278.53,22.32 279.13,22.45 279.60,22.40 C280.07,22.35 280.20,22.17 280.60,22.20 C281.00,22.23 281.43,22.27 282.00,22.60 C282.57,22.93 283.33,24.05 284.00,24.20 C284.67,24.35 285.27,23.37 286.00,23.50 C286.73,23.63 287.57,24.08 288.40,25.00 C289.23,25.92 289.98,26.28 291.00,29.00 C292.02,31.72 293.42,37.47 294.50,41.30 C295.58,45.13 296.53,49.28 297.50,52.00 C298.47,54.72 299.63,57.43 300.30,57.60 C300.97,57.77 301.10,54.82 301.50,53.00 C301.90,51.18 302.20,48.87 302.70,46.70 C303.20,44.53 303.88,41.82 304.50,40.00 C305.12,38.18 305.40,36.80 306.40,35.80 C307.40,34.80 308.83,33.85 310.50,34.00 C312.17,34.15 315.07,35.78 316.40,36.70 C317.73,37.62 317.75,38.58 318.50,39.50 C319.25,40.42 320.07,41.37 320.90,42.20 C321.73,43.03 322.73,43.53 323.50,44.50 C324.27,45.47 324.92,47.92 325.50,48.00 C326.08,48.08 326.40,45.75 327.00,45.00 C327.60,44.25 327.85,43.07 329.10,43.50 C330.35,43.93 333.10,46.18 334.50,47.60 C335.90,49.02 336.58,50.33 337.50,52.00 C338.42,53.67 338.98,55.27 340.00,57.60 C341.02,59.93 342.38,62.57 343.60,66.00 C344.82,69.43 345.93,73.37 347.30,78.20 C348.67,83.03 350.83,90.70 351.80,95.00 C352.77,99.30 352.57,101.75 353.10,104.00 C353.63,106.25 354.35,106.67 355.00,108.50 C355.65,110.33 356.47,112.08 357.00,115.00 C357.53,117.92 357.70,122.83 358.20,126.00 C358.70,129.17 359.37,131.88 360.00,134.00 C360.63,136.12 361.37,138.37 362.00,138.70 C362.63,139.03 363.25,137.78 363.80,136.00 C364.35,134.22 364.92,130.83 365.30,128.00 C365.68,125.17 365.78,122.50 366.10,119.00 C366.42,115.50 366.80,111.00 367.20,107.00 C367.60,103.00 367.92,99.33 368.50,95.00 C369.08,90.67 370.05,83.72 370.70,81.00 C371.35,78.28 371.92,79.28 372.40,78.70 C372.88,78.12 373.22,78.28 373.60,77.50 C373.98,76.72 374.03,77.25 374.70,74.00 C375.37,70.75 376.72,63.00 377.60,58.00 C378.48,53.00 379.27,48.67 380.00,44.00 C380.73,39.33 381.43,33.62 382.00,30.00 C382.57,26.38 382.87,22.28 383.40,22.30 C383.93,22.32 384.60,28.53 385.20,30.15 C385.80,31.77 386.28,32.50 387.00,32.00 C387.72,31.50 388.45,28.78 389.50,27.15 C390.55,25.52 392.38,22.04 393.30,22.20 C394.22,22.36 394.52,27.13 395.00,28.10 C395.48,29.07 395.73,28.50 396.20,28.00 C396.67,27.50 397.25,26.07 397.80,25.10 C398.35,24.13 398.88,22.72 399.50,22.20 C400.12,21.68 400.83,22.00 401.50,22.00 C402.17,22.00 402.83,21.53 403.50,22.20 C404.17,22.87 404.75,23.70 405.50,26.00 C406.25,28.30 407.17,31.67 408.00,36.00 C408.83,40.33 409.80,47.50 410.50,52.00 C411.20,56.50 411.58,62.46 412.20,63.00 C412.82,63.54 413.53,57.83 414.20,55.25 C414.87,52.67 415.63,46.71 416.20,47.50 C416.77,48.29 417.13,55.83 417.60,60.00 C418.07,64.17 418.52,72.17 419.00,72.50 C419.48,72.83 420.03,64.62 420.50,62.00 C420.97,59.38 421.33,58.25 421.80,56.80 C422.27,55.35 422.85,55.27 423.30,53.30 C423.75,51.33 424.10,49.33 424.50,45.00 C424.90,40.67 425.50,30.25 425.70,27.30" stroke="#1C90DA" stroke-width="1.5"/>
<path d="M61.00,21.70 C61.67,21.85 63.67,22.32 65.00,22.60 C66.33,22.88 67.43,23.00 69.00,23.40 C70.57,23.80 72.60,23.50 74.40,25.00 C76.20,26.50 78.08,29.23 79.80,32.40 C81.52,35.57 83.52,40.23 84.70,44.00 C85.88,47.77 86.25,49.83 86.90,55.00 C87.55,60.17 88.17,68.33 88.60,75.00 C89.03,81.67 89.20,88.83 89.50,95.00 C89.80,101.17 90.12,106.50 90.40,112.00 C90.68,117.50 90.80,123.36 91.20,128.00 C91.60,132.65 92.08,136.30 92.80,139.87 C93.52,143.44 94.72,145.39 95.50,149.43 C96.28,153.47 96.87,159.46 97.50,164.11 C98.13,168.75 98.73,176.30 99.30,177.31 C99.87,178.33 100.20,171.22 100.90,170.20 C101.60,169.18 102.50,170.70 103.50,171.20 C104.50,171.70 105.60,172.03 106.90,173.20 C108.20,174.37 109.85,176.37 111.30,178.20 C112.75,180.03 114.23,182.85 115.60,184.20 C116.97,185.55 118.22,186.30 119.50,186.30 C120.78,186.30 121.95,185.81 123.30,184.20 C124.65,182.59 126.15,179.50 127.60,176.63 C129.05,173.76 130.57,170.02 132.00,166.99 C133.43,163.96 135.05,160.90 136.20,158.44 C137.35,155.98 138.07,154.34 138.90,152.24 C139.73,150.13 140.27,148.69 141.20,145.82 C142.13,142.95 143.50,138.09 144.50,135.04 C145.50,131.99 146.20,130.77 147.20,127.54 C148.20,124.31 149.47,119.79 150.50,115.66 C151.53,111.53 152.65,105.90 153.40,102.76 C154.15,99.62 154.28,99.59 155.00,96.82 C155.72,94.05 156.80,88.92 157.70,86.12 C158.60,83.31 159.54,81.80 160.40,80.00 C161.26,78.20 162.18,76.60 162.88,75.30 C163.58,74.00 163.76,73.45 164.60,72.20 C165.44,70.95 166.98,69.08 167.90,67.80 C168.82,66.52 169.30,65.95 170.10,64.50 C170.90,63.05 171.73,61.27 172.70,59.10 C173.67,56.93 174.87,53.52 175.90,51.50 C176.93,49.48 177.90,49.18 178.90,47.00 C179.90,44.82 180.80,40.68 181.90,38.40 C183.00,36.12 184.17,35.00 185.50,33.30 C186.83,31.60 188.10,29.92 189.90,28.20 C191.70,26.48 194.35,24.00 196.30,23.00 C198.25,22.00 199.98,22.32 201.60,22.20 C203.22,22.08 204.82,22.25 206.00,22.30 C207.18,22.35 207.78,21.80 208.70,22.50 C209.62,23.20 210.50,26.50 211.50,26.50 C212.50,26.50 213.28,23.20 214.70,22.50 C216.12,21.80 213.12,22.33 220.00,22.30 C226.88,22.27 249.42,22.22 256.00,22.30 C262.58,22.38 258.30,22.45 259.50,22.80 C260.70,23.15 262.03,24.38 263.20,24.40 C264.37,24.42 265.45,23.20 266.50,22.90 C267.55,22.60 268.50,22.53 269.50,22.60 C270.50,22.67 271.55,22.82 272.50,23.30 C273.45,23.78 274.32,25.50 275.20,25.50 C276.08,25.50 277.07,23.82 277.80,23.30 C278.53,22.78 279.13,22.58 279.60,22.40 C280.07,22.22 280.20,22.17 280.60,22.20 C281.00,22.23 281.43,21.47 282.00,22.60 C282.57,23.73 283.33,28.85 284.00,29.00 C284.67,29.15 285.27,24.00 286.00,23.50 C286.73,23.00 287.73,22.42 288.40,26.00 C289.07,29.58 289.32,39.00 290.00,45.00 C290.68,51.00 291.67,56.17 292.50,62.00 C293.33,67.83 294.17,73.67 295.00,80.00 C295.83,86.33 296.80,94.00 297.50,100.00 C298.20,106.00 298.73,112.17 299.20,116.00 C299.67,119.83 299.95,123.67 300.30,123.00 C300.65,122.33 300.93,116.67 301.30,112.00 C301.67,107.33 302.12,100.33 302.50,95.00 C302.88,89.67 303.18,85.00 303.60,80.00 C304.02,75.00 304.53,69.00 305.00,65.00 C305.47,61.00 305.82,58.58 306.40,56.00 C306.98,53.42 307.60,51.05 308.50,49.50 C309.40,47.95 310.80,46.12 311.80,46.70 C312.80,47.28 313.72,50.95 314.50,53.00 C315.28,55.05 315.88,57.17 316.50,59.00 C317.12,60.83 317.65,61.83 318.20,64.00 C318.75,66.17 319.37,69.83 319.80,72.00 C320.23,74.17 320.37,75.50 320.80,77.00 C321.23,78.50 321.75,80.08 322.40,81.00 C323.05,81.92 324.13,81.83 324.70,82.50 C325.27,83.17 325.48,84.25 325.80,85.00 C326.12,85.75 326.32,87.17 326.60,87.00 C326.88,86.83 327.15,84.83 327.50,84.00 C327.85,83.17 328.05,81.67 328.70,82.00 C329.35,82.33 330.43,83.33 331.40,86.00 C332.37,88.67 333.42,93.17 334.50,98.00 C335.58,102.83 336.23,106.33 337.90,115.00 C339.57,123.67 342.48,138.72 344.50,150.00 C346.52,161.28 348.72,174.37 350.00,182.70 C351.28,191.03 351.62,196.28 352.20,200.00 C352.78,203.72 353.12,203.33 353.50,205.00 C353.88,206.67 354.08,208.67 354.50,210.00 C354.92,211.33 355.48,212.08 356.00,213.00 C356.52,213.92 357.10,214.58 357.60,215.50 C358.10,216.42 358.58,217.42 359.00,218.50 C359.42,219.58 359.77,221.08 360.10,222.00 C360.43,222.92 360.68,223.55 361.00,224.00 C361.32,224.45 361.50,224.78 362.00,224.70 C362.50,224.62 363.40,224.45 364.00,223.50 C364.60,222.55 365.10,221.08 365.60,219.00 C366.10,216.92 366.60,213.33 367.00,211.00 C367.40,208.67 367.63,207.33 368.00,205.00 C368.37,202.67 368.83,199.50 369.20,197.00 C369.57,194.50 369.85,192.50 370.20,190.00 C370.55,187.50 370.93,184.58 371.30,182.00 C371.67,179.42 372.07,175.17 372.40,174.50 C372.73,173.83 372.95,179.58 373.30,178.00 C373.65,176.42 374.13,169.67 374.50,165.00 C374.87,160.33 375.08,155.50 375.50,150.00 C375.92,144.50 376.62,137.83 377.00,132.00 C377.38,126.17 377.55,122.00 377.80,115.00 C378.05,108.00 378.25,97.50 378.50,90.00 C378.75,82.50 379.00,76.67 379.30,70.00 C379.60,63.33 379.85,56.67 380.30,50.00 C380.75,43.33 381.48,34.62 382.00,30.00 C382.52,25.38 382.87,19.94 383.40,22.30 C383.93,24.66 384.60,37.87 385.20,44.15 C385.80,50.43 386.28,60.50 387.00,60.00 C387.72,59.50 388.45,47.45 389.50,41.15 C390.55,34.85 392.38,22.54 393.30,22.20 C394.22,21.86 394.52,34.47 395.00,39.10 C395.48,43.73 395.73,50.50 396.20,50.00 C396.67,49.50 397.25,40.73 397.80,36.10 C398.35,31.47 398.88,24.55 399.50,22.20 C400.12,19.85 400.83,22.00 401.50,22.00 C402.17,22.00 402.87,20.03 403.50,22.20 C404.13,24.37 404.78,26.37 405.30,35.00 C405.82,43.63 406.18,62.00 406.60,74.00 C407.02,86.00 407.27,96.00 407.80,107.00 C408.33,118.00 409.07,132.83 409.80,140.00 C410.53,147.17 411.47,151.17 412.20,150.00 C412.93,148.83 413.53,138.67 414.20,133.00 C414.87,127.33 415.63,114.50 416.20,116.00 C416.77,117.50 417.13,133.33 417.60,142.00 C418.07,150.67 418.38,166.67 419.00,168.00 C419.62,169.33 420.65,158.00 421.30,150.00 C421.95,142.00 422.47,129.17 422.90,120.00 C423.33,110.83 423.62,103.33 423.90,95.00 C424.18,86.67 424.30,76.55 424.60,70.00 C424.90,63.45 425.52,58.08 425.70,55.70" stroke="#3DB43A" stroke-width="1.5"/>
<path d="M61.00,21.70 C61.67,21.85 63.67,22.32 65.00,22.60 C66.33,22.88 67.43,23.00 69.00,23.40 C70.57,23.80 72.60,23.50 74.40,25.00 C76.20,26.50 78.08,29.23 79.80,32.40 C81.52,35.57 83.52,40.23 84.70,44.00 C85.88,47.77 86.25,49.83 86.90,55.00 C87.55,60.17 88.17,68.33 88.60,75.00 C89.03,81.67 89.20,88.83 89.50,95.00 C89.80,101.17 90.12,106.50 90.40,112.00 C90.68,117.50 90.80,123.33 91.20,128.00 C91.60,132.67 92.08,136.34 92.80,140.04 C93.52,143.74 94.72,145.97 95.50,150.18 C96.28,154.38 96.87,160.49 97.50,165.28 C98.13,170.06 98.73,177.51 99.30,178.87 C99.87,180.22 100.20,174.14 100.90,173.40 C101.60,172.66 102.50,174.15 103.50,174.40 C104.50,174.65 105.60,173.98 106.90,174.90 C108.20,175.82 109.85,178.07 111.30,179.90 C112.75,181.73 114.23,184.55 115.60,185.90 C116.97,187.25 118.22,188.00 119.50,188.00 C120.78,188.00 121.95,187.55 123.30,185.90 C124.65,184.25 126.15,181.04 127.60,178.08 C129.05,175.12 130.57,171.26 132.00,168.13 C133.43,165.00 135.05,161.82 136.20,159.30 C137.35,156.78 138.07,155.13 138.90,153.00 C139.73,150.87 140.27,149.40 141.20,146.50 C142.13,143.60 143.50,138.68 144.50,135.60 C145.50,132.52 146.20,131.27 147.20,128.00 C148.20,124.73 149.47,120.17 150.50,116.00 C151.53,111.83 152.65,106.17 153.40,103.00 C154.15,99.83 154.28,99.80 155.00,97.00 C155.72,94.20 156.87,89.03 157.70,86.20 C158.53,83.37 159.27,81.82 160.00,80.00 C160.73,78.18 161.47,76.60 162.10,75.30 C162.73,74.00 162.97,73.45 163.80,72.20 C164.63,70.95 166.18,69.08 167.10,67.80 C168.02,66.52 168.57,65.95 169.30,64.50 C170.03,63.05 170.60,61.27 171.50,59.10 C172.40,56.93 173.67,53.52 174.70,51.50 C175.73,49.48 176.70,49.18 177.70,47.00 C178.70,44.82 179.60,40.68 180.70,38.40 C181.80,36.12 182.97,35.00 184.30,33.30 C185.63,31.60 186.90,29.92 188.70,28.20 C190.50,26.48 192.95,24.00 195.10,23.00 C197.25,22.00 199.78,22.30 201.60,22.20 C203.42,22.10 204.82,22.33 206.00,22.40 C207.18,22.47 207.78,21.55 208.70,22.60 C209.62,23.65 210.50,28.70 211.50,28.70 C212.50,28.70 213.28,23.65 214.70,22.60 C216.12,21.55 213.12,22.43 220.00,22.40 C226.88,22.37 249.42,22.32 256.00,22.40 C262.58,22.48 258.30,22.57 259.50,22.90 C260.70,23.23 262.03,24.38 263.20,24.40 C264.37,24.42 265.45,23.28 266.50,23.00 C267.55,22.72 268.50,22.63 269.50,22.70 C270.50,22.77 271.55,22.93 272.50,23.40 C273.45,23.87 274.32,25.50 275.20,25.50 C276.08,25.50 277.07,23.92 277.80,23.40 C278.53,22.88 279.13,22.60 279.60,22.40 C280.07,22.20 280.20,22.17 280.60,22.20 C281.00,22.23 281.43,21.23 282.00,22.60 C282.57,23.97 283.33,30.25 284.00,30.40 C284.67,30.55 285.27,24.23 286.00,23.50 C286.73,22.77 287.73,22.42 288.40,26.00 C289.07,29.58 289.32,39.00 290.00,45.00 C290.68,51.00 291.67,56.17 292.50,62.00 C293.33,67.83 294.17,73.67 295.00,80.00 C295.83,86.33 296.80,94.00 297.50,100.00 C298.20,106.00 298.73,112.03 299.20,116.00 C299.67,119.97 299.95,123.80 300.30,123.80 C300.65,123.80 300.92,119.97 301.30,116.00 C301.68,112.03 302.12,104.67 302.60,100.00 C303.08,95.33 303.67,91.33 304.20,88.00 C304.73,84.67 305.20,82.85 305.80,80.00 C306.40,77.15 307.18,71.42 307.80,70.90 C308.42,70.38 308.88,73.90 309.50,76.90 C310.12,79.90 310.75,84.07 311.50,88.90 C312.25,93.73 313.17,102.08 314.00,105.90 C314.83,109.72 315.67,109.00 316.50,111.80 C317.33,114.60 318.27,119.88 319.00,122.70 C319.73,125.52 320.27,128.70 320.90,128.70 C321.53,128.70 322.20,124.32 322.80,122.70 C323.40,121.07 323.90,122.53 324.50,118.95 C325.10,115.37 325.85,105.16 326.40,101.20 C326.95,97.24 327.35,96.53 327.80,95.20 C328.25,93.87 328.42,92.73 329.10,93.20 C329.78,93.67 330.65,94.37 331.90,98.00 C333.15,101.63 335.17,109.17 336.60,115.00 C338.03,120.83 339.33,127.17 340.50,133.00 C341.67,138.83 342.60,144.33 343.60,150.00 C344.60,155.67 345.58,161.55 346.50,167.00 C347.42,172.45 348.32,177.20 349.10,182.70 C349.88,188.20 350.63,196.20 351.20,200.00 C351.77,203.80 352.12,203.67 352.50,205.50 C352.88,207.33 353.08,209.55 353.50,211.00 C353.92,212.45 354.45,213.25 355.00,214.20 C355.55,215.15 356.27,215.78 356.80,216.70 C357.33,217.62 357.77,218.55 358.20,219.70 C358.63,220.85 358.97,222.52 359.40,223.60 C359.83,224.68 360.37,225.65 360.80,226.20 C361.23,226.75 361.57,226.88 362.00,226.90 C362.43,226.92 362.95,226.78 363.40,226.30 C363.85,225.82 364.33,225.05 364.70,224.00 C365.07,222.95 365.32,221.50 365.60,220.00 C365.88,218.50 366.10,216.67 366.40,215.00 C366.70,213.33 367.00,211.83 367.40,210.00 C367.80,208.17 368.37,206.17 368.80,204.00 C369.23,201.83 369.58,199.33 370.00,197.00 C370.42,194.67 370.88,192.33 371.30,190.00 C371.72,187.67 372.13,185.33 372.50,183.00 C372.87,180.67 373.20,178.50 373.50,176.00 C373.80,173.50 374.02,171.00 374.30,168.00 C374.58,165.00 374.83,161.33 375.20,158.00 C375.57,154.67 376.10,151.83 376.50,148.00 C376.90,144.17 377.32,140.50 377.60,135.00 C377.88,129.50 378.00,122.50 378.20,115.00 C378.40,107.50 378.58,97.50 378.80,90.00 C379.02,82.50 379.22,76.67 379.50,70.00 C379.78,63.33 380.08,56.67 380.50,50.00 C380.92,43.33 381.52,34.62 382.00,30.00 C382.48,25.38 382.87,19.33 383.40,22.30 C383.93,25.27 384.60,40.30 385.20,47.80 C385.80,55.30 386.28,67.80 387.00,67.30 C387.72,66.80 388.45,52.32 389.50,44.80 C390.55,37.28 392.38,22.73 393.30,22.20 C394.22,21.67 394.52,36.13 395.00,41.60 C395.48,47.07 395.73,55.50 396.20,55.00 C396.67,54.50 397.25,44.07 397.80,38.60 C398.35,33.13 398.88,24.97 399.50,22.20 C400.12,19.43 400.83,22.00 401.50,22.00 C402.17,22.00 402.87,20.03 403.50,22.20 C404.13,24.37 404.78,26.37 405.30,35.00 C405.82,43.63 406.18,62.00 406.60,74.00 C407.02,86.00 407.27,96.00 407.80,107.00 C408.33,118.00 409.07,130.17 409.80,140.00 C410.53,149.83 411.47,165.50 412.20,166.00 C412.93,166.50 413.53,150.67 414.20,143.00 C414.87,135.33 415.63,118.58 416.20,120.00 C416.77,121.42 417.13,141.00 417.60,151.50 C418.07,162.00 418.38,183.25 419.00,183.00 C419.62,182.75 420.65,160.50 421.30,150.00 C421.95,139.50 422.47,129.17 422.90,120.00 C423.33,110.83 423.62,103.33 423.90,95.00 C424.18,86.67 424.30,77.17 424.60,70.00 C424.90,62.83 425.52,55.00 425.70,52.00" stroke="#1F4C98" stroke-width="1.5"/>
<path d="M61.00,21.70 C61.67,21.78 63.67,22.02 65.00,22.20 C66.33,22.38 67.00,22.50 69.00,22.80 C71.00,23.10 74.58,22.97 77.00,24.00 C79.42,25.03 81.75,27.00 83.50,29.00 C85.25,31.00 86.48,33.00 87.50,36.00 C88.52,39.00 89.12,43.00 89.60,47.00 C90.08,51.00 90.18,56.17 90.40,60.00 C90.62,63.83 90.72,66.58 90.90,70.00 C91.08,73.42 91.17,79.23 91.50,80.50 C91.83,81.77 92.45,76.62 92.90,77.60 C93.35,78.58 93.62,82.50 94.20,86.40 C94.78,90.30 95.68,96.40 96.40,101.00 C97.12,105.60 98.02,111.28 98.50,114.00 C98.98,116.72 98.90,117.38 99.30,117.30 C99.70,117.22 99.82,113.60 100.90,113.50 C101.98,113.40 104.07,115.25 105.80,116.70 C107.53,118.15 109.85,120.32 111.30,122.20 C112.75,124.08 113.13,126.33 114.50,128.00 C115.87,129.67 117.85,132.12 119.50,132.20 C121.15,132.28 123.23,130.20 124.40,128.50 C125.57,126.80 125.42,124.75 126.50,122.00 C127.58,119.25 129.62,114.58 130.90,112.00 C132.18,109.42 132.93,108.50 134.20,106.50 C135.47,104.50 137.03,102.75 138.50,100.00 C139.97,97.25 141.33,93.83 143.00,90.00 C144.67,86.17 146.67,81.60 148.50,77.00 C150.33,72.40 152.17,66.65 154.00,62.40 C155.83,58.15 157.98,54.07 159.50,51.50 C161.02,48.93 161.65,48.82 163.10,47.00 C164.55,45.18 166.73,42.27 168.20,40.60 C169.67,38.93 170.68,38.10 171.90,37.00 C173.12,35.90 174.53,35.10 175.50,34.00 C176.47,32.90 176.83,31.37 177.70,30.40 C178.57,29.43 179.72,28.93 180.70,28.20 C181.68,27.47 182.22,26.78 183.60,26.00 C184.98,25.22 186.77,24.13 189.00,23.50 C191.23,22.87 194.17,22.40 197.00,22.20 C199.83,22.00 204.05,22.25 206.00,22.30 C207.95,22.35 207.78,22.13 208.70,22.50 C209.62,22.87 210.50,24.50 211.50,24.50 C212.50,24.50 213.28,22.87 214.70,22.50 C216.12,22.13 213.12,22.33 220.00,22.30 C226.88,22.27 249.42,22.22 256.00,22.30 C262.58,22.38 258.30,22.38 259.50,22.80 C260.70,23.22 262.03,24.78 263.20,24.80 C264.37,24.82 265.45,23.27 266.50,22.90 C267.55,22.53 268.50,22.53 269.50,22.60 C270.50,22.67 271.55,22.70 272.50,23.30 C273.45,23.90 274.32,26.20 275.20,26.20 C276.08,26.20 277.07,23.93 277.80,23.30 C278.53,22.67 279.13,22.58 279.60,22.40 C280.07,22.22 280.20,22.17 280.60,22.20 C281.00,22.23 281.43,22.22 282.00,22.60 C282.57,22.98 283.33,24.35 284.00,24.50 C284.67,24.65 285.27,23.52 286.00,23.50 C286.73,23.48 287.47,23.25 288.40,24.40 C289.33,25.55 290.73,28.80 291.60,30.40 C292.47,32.00 293.05,31.57 293.60,34.00 C294.15,36.43 294.28,41.50 294.90,45.00 C295.52,48.50 296.62,51.17 297.30,55.00 C297.98,58.83 298.50,64.80 299.00,68.00 C299.50,71.20 299.83,74.03 300.30,74.20 C300.77,74.37 301.33,71.70 301.80,69.00 C302.27,66.30 302.75,61.10 303.10,58.00 C303.45,54.90 303.53,53.23 303.90,50.40 C304.27,47.57 304.73,43.40 305.30,41.00 C305.87,38.60 306.75,36.87 307.30,36.00 C307.85,35.13 308.15,35.68 308.60,35.80 C309.05,35.92 309.10,34.92 310.00,36.70 C310.90,38.48 312.60,43.40 314.00,46.50 C315.40,49.60 317.40,53.45 318.40,55.30 C319.40,57.15 319.40,56.27 320.00,57.60 C320.60,58.93 321.18,62.15 322.00,63.30 C322.82,64.45 324.23,64.02 324.90,64.50 C325.57,64.98 325.60,66.65 326.00,66.20 C326.40,65.75 326.90,62.57 327.30,61.80 C327.70,61.03 327.95,61.23 328.40,61.60 C328.85,61.97 329.48,63.68 330.00,64.00 C330.52,64.32 330.75,62.35 331.50,63.50 C332.25,64.65 333.32,68.48 334.50,70.90 C335.68,73.32 337.52,75.48 338.60,78.00 C339.68,80.52 340.08,82.67 341.00,86.00 C341.92,89.33 343.02,93.17 344.10,98.00 C345.18,102.83 346.67,110.93 347.50,115.00 C348.33,119.07 348.23,117.83 349.10,122.40 C349.97,126.97 351.48,137.25 352.70,142.40 C353.92,147.55 355.48,149.00 356.40,153.30 C357.32,157.60 357.57,163.58 358.20,168.20 C358.83,172.82 359.57,177.82 360.20,181.00 C360.83,184.18 361.43,186.97 362.00,187.30 C362.57,187.63 363.17,184.55 363.60,183.00 C364.03,181.45 364.20,180.17 364.60,178.00 C365.00,175.83 365.62,173.00 366.00,170.00 C366.38,167.00 366.65,163.33 366.90,160.00 C367.15,156.67 367.23,153.33 367.50,150.00 C367.77,146.67 368.08,143.33 368.50,140.00 C368.92,136.67 369.55,133.00 370.00,130.00 C370.45,127.00 370.85,123.83 371.20,122.00 C371.55,120.17 371.83,119.37 372.10,119.00 C372.37,118.63 372.52,120.30 372.80,119.80 C373.08,119.30 373.48,117.63 373.80,116.00 C374.12,114.37 374.42,112.00 374.70,110.00 C374.98,108.00 375.20,106.70 375.50,104.00 C375.80,101.30 376.05,96.28 376.50,93.80 C376.95,91.32 377.72,92.40 378.20,89.10 C378.68,85.80 379.02,80.52 379.40,74.00 C379.78,67.48 380.07,57.00 380.50,50.00 C380.93,43.00 381.52,36.62 382.00,32.00 C382.48,27.38 382.87,21.59 383.40,22.30 C383.93,23.01 384.60,32.60 385.20,36.25 C385.80,39.90 386.28,44.70 387.00,44.20 C387.72,43.70 388.45,36.92 389.50,33.25 C390.55,29.58 392.38,22.48 393.30,22.20 C394.22,21.92 394.52,29.43 395.00,31.55 C395.48,33.67 395.73,35.40 396.20,34.90 C396.67,34.40 397.25,30.67 397.80,28.55 C398.35,26.43 398.88,23.29 399.50,22.20 C400.12,21.11 400.83,22.00 401.50,22.00 C402.17,22.00 402.83,21.53 403.50,22.20 C404.17,22.87 404.87,23.53 405.50,26.00 C406.13,28.47 406.52,29.00 407.30,37.00 C408.08,45.00 409.38,65.02 410.20,74.00 C411.02,82.98 411.53,90.45 412.20,90.90 C412.87,91.35 413.53,81.43 414.20,76.70 C414.87,71.97 415.63,61.58 416.20,62.50 C416.77,63.42 417.13,75.63 417.60,82.20 C418.07,88.77 418.52,100.60 419.00,101.90 C419.48,103.20 420.03,93.68 420.50,90.00 C420.97,86.32 421.32,82.13 421.80,79.80 C422.28,77.47 422.97,79.30 423.40,76.00 C423.83,72.70 424.02,67.38 424.40,60.00 C424.78,52.62 425.48,36.42 425.70,31.70" stroke="#C4520E" stroke-width="1.5"/>
<path d="M61.00,21.70 C61.67,21.85 63.67,22.32 65.00,22.60 C66.33,22.88 67.37,23.00 69.00,23.40 C70.63,23.80 72.93,23.50 74.80,25.00 C76.67,26.50 78.48,29.23 80.20,32.40 C81.92,35.57 83.92,40.23 85.10,44.00 C86.28,47.77 86.65,49.83 87.30,55.00 C87.95,60.17 88.57,68.33 89.00,75.00 C89.43,81.67 89.60,88.83 89.90,95.00 C90.20,101.17 90.52,106.50 90.80,112.00 C91.08,117.50 91.20,123.34 91.60,128.00 C92.00,132.66 92.55,136.30 93.20,139.94 C93.85,143.58 94.78,145.69 95.50,149.82 C96.22,153.96 96.87,160.01 97.50,164.72 C98.13,169.44 98.73,176.82 99.30,178.13 C99.87,179.45 100.20,173.36 100.90,172.60 C101.60,171.84 102.50,173.35 103.50,173.60 C104.50,173.85 105.60,173.18 106.90,174.10 C108.20,175.02 109.85,177.27 111.30,179.10 C112.75,180.93 114.23,183.75 115.60,185.10 C116.97,186.45 118.22,187.20 119.50,187.20 C120.78,187.20 121.95,186.71 123.30,185.10 C124.65,183.49 126.15,180.39 127.60,177.52 C129.05,174.65 130.57,170.90 132.00,167.87 C133.43,164.83 135.05,161.78 136.20,159.30 C137.35,156.82 138.07,155.13 138.90,153.00 C139.73,150.87 140.27,149.40 141.20,146.50 C142.13,143.60 143.50,138.68 144.50,135.60 C145.50,132.52 146.20,131.27 147.20,128.00 C148.20,124.73 149.47,120.17 150.50,116.00 C151.53,111.83 152.65,106.17 153.40,103.00 C154.15,99.83 154.28,99.80 155.00,97.00 C155.72,94.20 156.87,89.03 157.70,86.20 C158.53,83.37 159.27,81.82 160.00,80.00 C160.73,78.18 161.47,76.60 162.10,75.30 C162.73,74.00 162.97,73.45 163.80,72.20 C164.63,70.95 166.18,69.08 167.10,67.80 C168.02,66.52 168.57,65.95 169.30,64.50 C170.03,63.05 170.60,61.27 171.50,59.10 C172.40,56.93 173.67,53.52 174.70,51.50 C175.73,49.48 176.70,49.18 177.70,47.00 C178.70,44.82 179.60,40.68 180.70,38.40 C181.80,36.12 182.97,35.00 184.30,33.30 C185.63,31.60 186.90,29.92 188.70,28.20 C190.50,26.48 192.95,24.00 195.10,23.00 C197.25,22.00 199.78,22.27 201.60,22.20 C203.42,22.13 204.82,22.50 206.00,22.60 C207.18,22.70 207.78,22.07 208.70,22.80 C209.62,23.53 210.50,27.00 211.50,27.00 C212.50,27.00 213.28,23.53 214.70,22.80 C216.12,22.07 213.12,22.63 220.00,22.60 C226.88,22.57 249.42,22.52 256.00,22.60 C262.58,22.68 258.30,22.80 259.50,23.10 C260.70,23.40 262.03,24.38 263.20,24.40 C264.37,24.42 265.45,23.45 266.50,23.20 C267.55,22.95 268.50,22.83 269.50,22.90 C270.50,22.97 271.55,23.17 272.50,23.60 C273.45,24.03 274.32,25.50 275.20,25.50 C276.08,25.50 277.07,24.12 277.80,23.60 C278.53,23.08 279.13,22.63 279.60,22.40 C280.07,22.17 280.20,22.17 280.60,22.20 C281.00,22.23 281.43,21.47 282.00,22.60 C282.57,23.73 283.33,28.85 284.00,29.00 C284.67,29.15 285.27,24.00 286.00,23.50 C286.73,23.00 287.73,22.42 288.40,26.00 C289.07,29.58 289.32,39.00 290.00,45.00 C290.68,51.00 291.67,56.17 292.50,62.00 C293.33,67.83 294.17,73.67 295.00,80.00 C295.83,86.33 296.80,94.00 297.50,100.00 C298.20,106.00 298.73,112.25 299.20,116.00 C299.67,119.75 299.95,122.50 300.30,122.50 C300.65,122.50 300.92,119.75 301.30,116.00 C301.68,112.25 302.12,104.67 302.60,100.00 C303.08,95.33 303.67,91.33 304.20,88.00 C304.73,84.67 305.20,82.25 305.80,80.00 C306.40,77.75 307.18,74.08 307.80,74.50 C308.42,74.92 308.92,79.17 309.50,82.50 C310.08,85.83 310.78,91.58 311.30,94.50 C311.82,97.42 312.22,96.08 312.60,100.00 C312.98,103.92 313.20,111.83 313.60,118.00 C314.00,124.17 314.33,131.17 315.00,137.00 C315.67,142.83 316.90,149.17 317.60,153.00 C318.30,156.83 318.77,158.38 319.20,160.00 C319.63,161.62 319.70,164.37 320.20,162.70 C320.70,161.03 321.65,154.62 322.20,150.00 C322.75,145.38 323.07,140.33 323.50,135.00 C323.93,129.67 324.32,123.83 324.80,118.00 C325.28,112.17 325.90,105.00 326.40,100.00 C326.90,95.00 327.35,90.78 327.80,88.00 C328.25,85.22 328.40,83.30 329.10,83.30 C329.80,83.30 331.17,86.22 332.00,88.00 C332.83,89.78 333.35,90.67 334.10,94.00 C334.85,97.33 335.52,102.00 336.50,108.00 C337.48,114.00 338.77,123.00 340.00,130.00 C341.23,137.00 342.75,143.83 343.90,150.00 C345.05,156.17 345.97,161.55 346.90,167.00 C347.83,172.45 348.70,177.20 349.50,182.70 C350.30,188.20 351.12,196.20 351.70,200.00 C352.28,203.80 352.62,203.70 353.00,205.50 C353.38,207.30 353.58,209.42 354.00,210.80 C354.42,212.18 354.97,212.90 355.50,213.80 C356.03,214.70 356.68,215.30 357.20,216.20 C357.72,217.10 358.17,218.07 358.60,219.20 C359.03,220.33 359.40,221.97 359.80,223.00 C360.20,224.03 360.63,224.88 361.00,225.40 C361.37,225.92 361.63,226.07 362.00,226.10 C362.37,226.13 362.80,226.05 363.20,225.60 C363.60,225.15 364.07,224.40 364.40,223.40 C364.73,222.40 364.93,221.07 365.20,219.60 C365.47,218.13 365.70,216.27 366.00,214.60 C366.30,212.93 366.60,211.37 367.00,209.60 C367.40,207.83 367.90,206.10 368.40,204.00 C368.90,201.90 369.52,199.33 370.00,197.00 C370.48,194.67 370.88,192.17 371.30,190.00 C371.72,187.83 372.13,184.83 372.50,184.00 C372.87,183.17 373.20,187.33 373.50,185.00 C373.80,182.67 374.02,174.17 374.30,170.00 C374.58,165.83 374.87,163.00 375.20,160.00 C375.53,157.00 375.93,152.33 376.30,152.00 C376.67,151.67 377.12,161.67 377.40,158.00 C377.68,154.33 377.83,138.00 378.00,130.00 C378.17,122.00 378.27,116.67 378.40,110.00 C378.53,103.33 378.62,96.67 378.80,90.00 C378.98,83.33 379.22,76.67 379.50,70.00 C379.78,63.33 380.08,56.67 380.50,50.00 C380.92,43.33 381.52,34.62 382.00,30.00 C382.48,25.38 382.87,19.61 383.40,22.30 C383.93,24.99 384.60,39.20 385.20,46.15 C385.80,53.10 386.28,64.50 387.00,64.00 C387.72,63.50 388.45,50.12 389.50,43.15 C390.55,36.18 392.38,22.02 393.30,22.20 C394.22,22.38 394.52,37.90 395.00,44.25 C395.48,50.60 395.73,60.80 396.20,60.30 C396.67,59.80 397.25,47.60 397.80,41.25 C398.35,34.90 398.88,25.41 399.50,22.20 C400.12,18.99 400.83,22.00 401.50,22.00 C402.17,22.00 402.87,20.03 403.50,22.20 C404.13,24.37 404.78,26.37 405.30,35.00 C405.82,43.63 406.18,62.00 406.60,74.00 C407.02,86.00 407.27,96.00 407.80,107.00 C408.33,118.00 409.07,129.08 409.80,140.00 C410.53,150.92 411.47,171.29 412.20,172.50 C412.93,173.71 413.53,155.67 414.20,147.25 C414.87,138.83 415.63,120.65 416.20,122.00 C416.77,123.35 417.13,144.25 417.60,155.38 C418.07,166.50 418.38,189.65 419.00,188.75 C419.62,187.85 420.65,161.46 421.30,150.00 C421.95,138.54 422.47,129.17 422.90,120.00 C423.33,110.83 423.62,103.33 423.90,95.00 C424.18,86.67 424.30,75.00 424.60,70.00 C424.90,65.00 425.52,65.83 425.70,65.00" stroke="#62626C" stroke-width="1.5"/>
</g>
<line x1="442" y1="17.6" x2="468" y2="17.6" stroke="#4A8ACF" stroke-width="2"/>
<text x="471" y="21.8" font-size="12.3" font-weight="bold" style="stroke-width:0.05px" textLength="51.5" lengthAdjust="spacing">SOC = 1.6</text>
<line x1="442" y1="39.6" x2="468" y2="39.6" stroke="#F08030" stroke-width="2"/>
<text x="471" y="43.8" font-size="12.3" font-weight="bold" style="stroke-width:0.05px" textLength="51.5" lengthAdjust="spacing">SOC = 1.2</text>
<line x1="442" y1="61.6" x2="468" y2="61.6" stroke="#B0B0B0" stroke-width="2"/>
<text x="471" y="65.8" font-size="12.3" font-weight="bold" style="stroke-width:0.05px" textLength="51.5" lengthAdjust="spacing">SOC = 1.8</text>
<line x1="442" y1="83.6" x2="468" y2="83.6" stroke="#FFC020" stroke-width="2"/>
<text x="471" y="87.8" font-size="12.3" font-weight="bold" style="stroke-width:0.05px" textLength="51.5" lengthAdjust="spacing">SOC = 2.0</text>
<line x1="442" y1="105.6" x2="468" y2="105.6" stroke="#4AA8DE" stroke-width="2"/>
<text x="471" y="109.8" font-size="12.3" font-weight="bold" style="stroke-width:0.05px" textLength="51.5" lengthAdjust="spacing">SOC = 2.2</text>
<line x1="442" y1="127.6" x2="468" y2="127.6" stroke="#6EC060" stroke-width="2"/>
<text x="471" y="131.8" font-size="12.3" font-weight="bold" style="stroke-width:0.05px" textLength="51.5" lengthAdjust="spacing">SOC = 2.5</text>
<line x1="442" y1="149.6" x2="468" y2="149.6" stroke="#3A689C" stroke-width="2"/>
<text x="471" y="153.8" font-size="12.3" font-weight="bold" style="stroke-width:0.05px" textLength="51.5" lengthAdjust="spacing">SOC = 1.0</text>
<line x1="442" y1="171.6" x2="468" y2="171.6" stroke="#CC7440" stroke-width="2"/>
<text x="471" y="175.8" font-size="12.3" font-weight="bold" style="stroke-width:0.05px" textLength="51.5" lengthAdjust="spacing">SOC = 0.5</text>
<line x1="442" y1="193.6" x2="468" y2="193.6" stroke="#888888" stroke-width="2"/>
<text x="471" y="197.8" font-size="12.3" font-weight="bold" style="stroke-width:0.05px" textLength="51.5" lengthAdjust="spacing">SOC = 0.8</text>
</svg></body></html>
